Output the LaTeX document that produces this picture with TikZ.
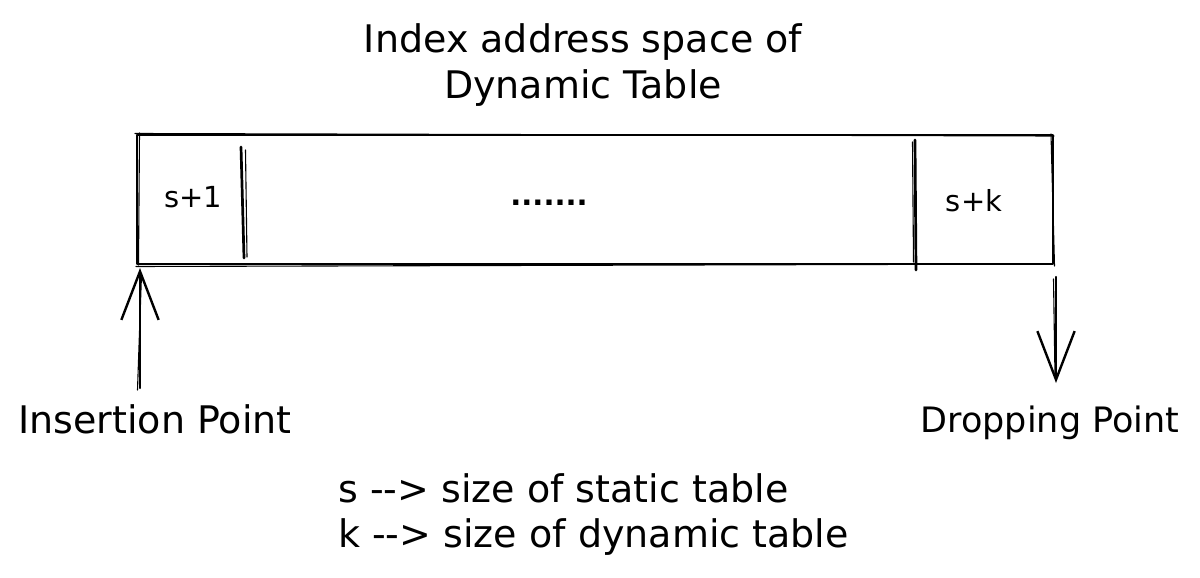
\documentclass[tikz,border=0pt]{standalone}
\usepackage{fontspec}
\setmainfont{DejaVu Sans}
\usetikzlibrary{arrows.meta}
\begin{document}
\begin{tikzpicture}[x=1pt,y=-1pt,
  lbl/.style={font=\fontsize{38}{46}\selectfont, inner sep=0pt, anchor=base},
  cell/.style={lbl, font=\fontsize{29}{36}\selectfont},
  edge/.style={line width=2.7pt, line cap=round, line join=round},
  sketch/.style={line width=1.1pt, line cap=round},
  arr/.style={edge, line width=2.4pt, -{Straight Barb[angle=42:52pt, line width=2.4pt]}}]
\useasboundingbox[fill=white] (0,0) rectangle (1200,578);

% table
\node[draw, edge, minimum width=916pt, minimum height=129pt, inner sep=0pt] (table) at (595,199.5) {};
\draw[sketch] (135,133.5) -- (1054,136);
\draw[sketch] (136,266.5) -- (1052,264);
\draw[sketch] (139.5,133) -- (138.5,265);
\draw[sketch] (1051,134) -- (1054.5,266);
% dividers
\draw[edge] (241,147) -- (244,258);
\draw[sketch] (245.5,150) -- (247,257);
\draw[edge] (915,140) -- (916,270);
\draw[sketch] (912.5,142) -- (913.5,262);

% cell labels
\node[cell] (c1) at (193,207) {s+1};
\node[lbl, font=\fontsize{29}{36}\selectfont] (dots) at (549,205) {\bfseries .......};
\node[cell] (ck) at (974,211) {s+k};

% title
\node[lbl] (t1) at (583,53) {Index address space of};
\node[lbl] (t2) at (583,99) {Dynamic Table};

% labels
\node[lbl] (ins) at (155,433) {Insertion Point};
\node[lbl, font=\fontsize{35}{42}\selectfont] (drop) at (1050,432) {Dropping Point};

% legend
\node[lbl, anchor=base west] (leg1) at (338,502) {s -\kern0pt-\kern0pt> size of static table};
\node[lbl, anchor=base west] (leg2) at (338,547) {k -\kern0pt-\kern0pt> size of dynamic table};

% arrows
\coordinate (insTail) at (140,388);
\coordinate (insTip) at (140,268);
\draw[arr] (insTail) -- (insTip);
\draw[sketch] (137.5,390) -- (141.5,274);
\coordinate (dropTail) at (1056,277);
\coordinate (dropTip) at (1056,383);
\draw[arr] (dropTail) -- (dropTip);
\draw[sketch] (1053.5,279) -- (1055,376);
\end{tikzpicture}
\end{document}
